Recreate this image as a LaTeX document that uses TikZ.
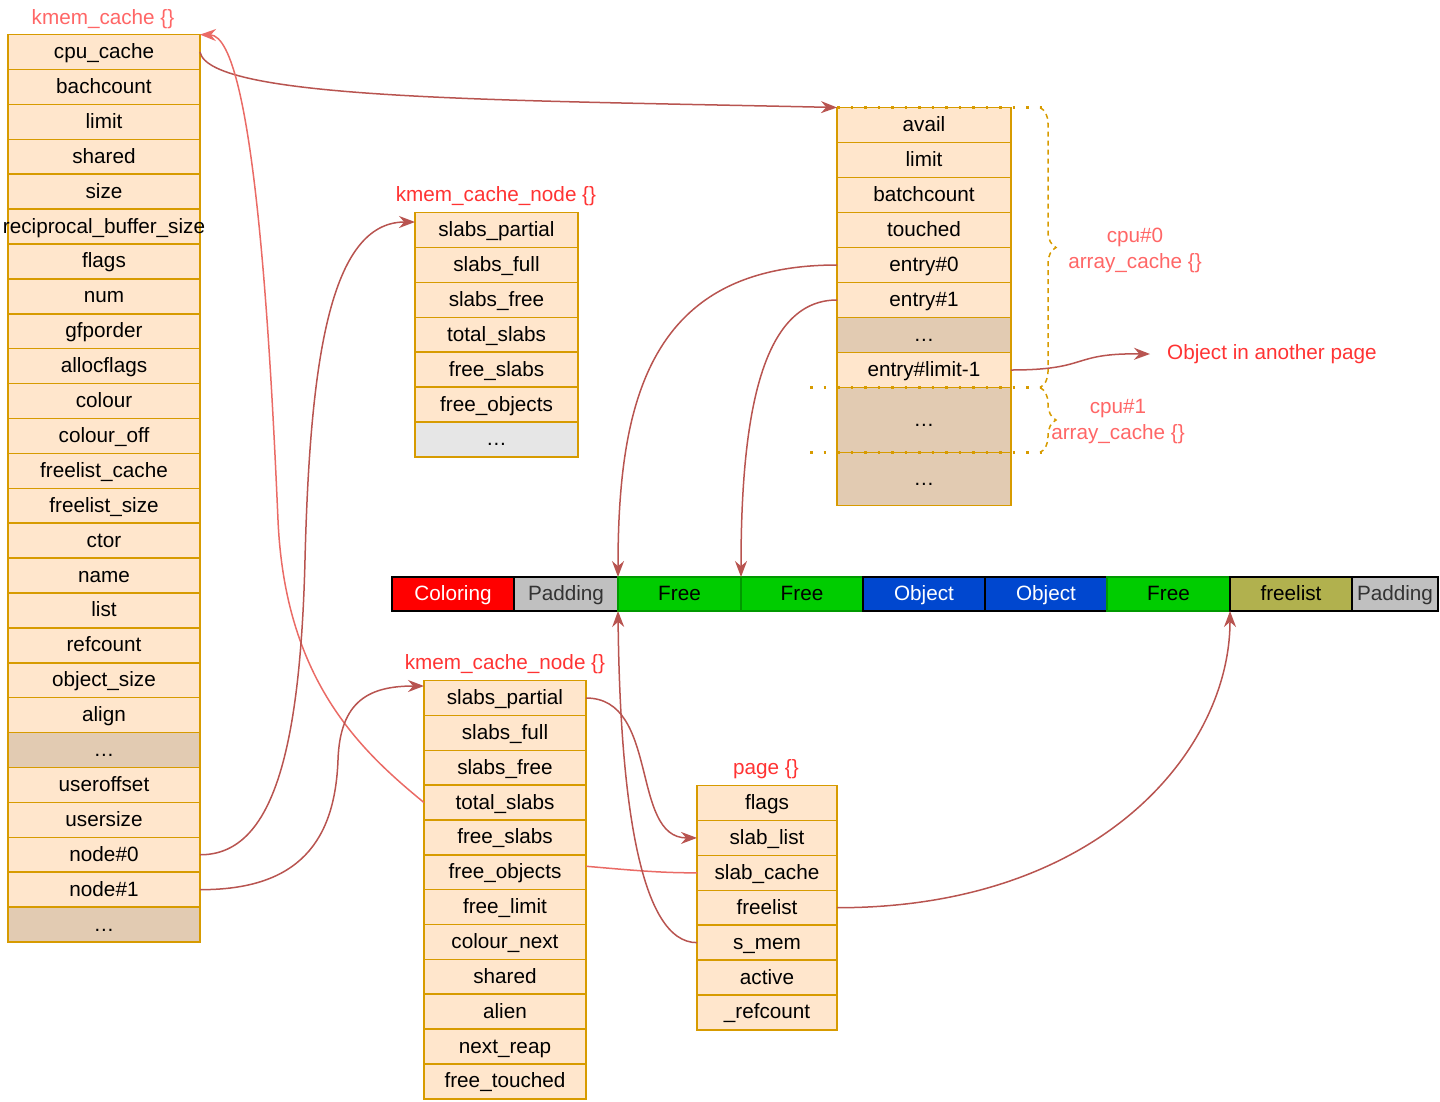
\documentclass[tikz,border=0pt]{standalone}
\usepackage{fontspec}
\setmainfont{Liberation Sans}
\usetikzlibrary{positioning,arrows.meta,decorations.pathreplacing}

\definecolor{fieldfill}{HTML}{FFE6CC}
\definecolor{fieldline}{HTML}{D79B00}
\definecolor{dotsfill}{HTML}{E2CBB2}
\definecolor{grayfill}{HTML}{E6E6E6}
\definecolor{linkred}{HTML}{B85450}
\definecolor{linkpink}{HTML}{EA6B66}
\definecolor{titlered}{HTML}{FF3333}
\definecolor{titlepink}{HTML}{FF6666}
\definecolor{coloring}{HTML}{FF0000}
\definecolor{padgray}{HTML}{C0C0C0}
\definecolor{padtext}{HTML}{333333}
\definecolor{freegreen}{HTML}{00CC00}
\definecolor{freeline}{HTML}{009900}
\definecolor{objblue}{HTML}{0047CF}
\definecolor{olive}{HTML}{B1B14E}

\begin{document}
\begin{tikzpicture}[x=1pt,y=-1pt,
  txt/.style={font=\fontsize{20.7}{26}\selectfont},
  field/.style={txt,draw=fieldline,fill=fieldfill,line width=1.5pt,inner sep=0pt,outer sep=0pt,
    minimum height=34.9pt,text height=16pt,text depth=3pt},
  cell/.style={txt,draw=black,line width=1.5pt,inner sep=0pt,outer sep=0pt,
    minimum height=34pt,text height=16pt,text depth=3pt},
  title/.style={txt,text=titlered},
  link/.style={draw=linkred,line width=1.5pt,-{Stealth[length=16pt,width=12pt]}},
  groupline/.style={draw=fieldline,line width=2.5pt,dash pattern=on 2.5pt off 11pt},
  bracket/.style={draw=fieldline,line width=1.5pt,dash pattern=on 5pt off 4pt,
    decorate,decoration={brace,amplitude=16pt}},
  kc21/.style={fill=dotsfill}, kc26/.style={fill=dotsfill},
  na7/.style={fill=grayfill}, ac7/.style={fill=dotsfill}]
\useasboundingbox (0,0) rectangle (1440,1101);

% kmem_cache
\node[title,text=titlepink] (kctitle) at (103,19) {kmem\_cache \{\}};
\foreach \t [count=\i] in {cpu\_cache,bachcount,limit,shared,size,reciprocal\_buffer\_size,flags,num,gfporder,allocflags,colour,colour\_off,freelist\_cache,freelist\_size,ctor,name,list,refcount,object\_size,align,\ldots,useroffset,usersize,node\#0,node\#1,\ldots}
  \node[field,minimum width=192pt,kc\i/.try] (kc\i) at (104,{52.05+(\i-1)*34.9}) {\makebox[0pt]{\t}};

% kmem_cache_node #0
\node[title] (natitle) at (496,196) {kmem\_cache\_node \{\}};
\foreach \t [count=\i] in {slabs\_partial,slabs\_full,slabs\_free,total\_slabs,free\_slabs,free\_objects,\ldots}
  \node[field,minimum width=163pt,na\i/.try] (na\i) at (496.5,{230+(\i-1)*34.9}) {\t};

% kmem_cache_node #1
\node[title] (nbtitle) at (505,664) {kmem\_cache\_node \{\}};
\foreach \t [count=\i] in {slabs\_partial,slabs\_full,slabs\_free,total\_slabs,free\_slabs,free\_objects,free\_limit,colour\_next,shared,alien,next\_reap,free\_touched}
  \node[field,minimum width=162pt] (nb\i) at (505,{698+(\i-1)*34.85}) {\t};

% page
\node[title] (pgtitle) at (766,769) {page \{\}};
\foreach \t [count=\i] in {flags,slab\_list,slab\_cache,freelist,s\_mem,active,\_refcount}
  \node[field,minimum width=140pt] (pg\i) at (767,{803+(\i-1)*34.9}) {\t};

% array_cache
\foreach \t [count=\i] in {avail,limit,batchcount,touched,entry\#0,entry\#1,\ldots,entry\#limit-1}
  \node[field,minimum width=174pt,minimum height=35pt,ac\i/.try] (ac\i) at (924,{125+(\i-1)*35}) {\t};
\node[field,fill=dotsfill,minimum width=174pt,minimum height=65pt,below=0pt of ac8] (ac9) {\ldots};
\node[field,fill=dotsfill,minimum width=174pt,minimum height=53pt,below=0pt of ac9] (ac10) {\ldots};

\draw[groupline] (ac1.north west) -- ([xshift=32pt]ac1.north east);
\draw[groupline] ([xshift=-27pt]ac8.south west) -- ([xshift=32pt]ac8.south east);
\draw[groupline] ([xshift=-27pt]ac9.south west) -- ([xshift=32pt]ac9.south east);
\draw[bracket] ([xshift=29pt]ac1.north east) -- ([xshift=29pt]ac8.south east);
\draw[bracket] ([xshift=29pt]ac8.south east) -- ([xshift=29pt]ac9.south east);
\node[txt,text=titlepink,align=center] (cpu0) at (1135,250) {cpu\#0\\array\_cache \{\}};
\node[txt,text=titlepink,align=center] (cpu1) at (1118,422) {cpu\#1\\array\_cache \{\}};
\node[title,anchor=west,inner xsep=17pt] (other) at (1150,354) {Object in another page};

% slab
\node[cell,fill=coloring,text=white,minimum width=122pt] (b1) at (453,594) {Coloring};
\node[cell,fill=padgray,text=padtext,minimum width=104pt,right=0pt of b1] (b2) {Padding};
\node[cell,fill=freegreen,draw=freeline,minimum width=123pt,right=0pt of b2] (b3) {Free};
\node[cell,fill=freegreen,draw=freeline,minimum width=122pt,right=0pt of b3] (b4) {Free};
\node[cell,fill=objblue,text=white,minimum width=122pt,right=0pt of b4] (b5) {Object};
\node[cell,fill=objblue,text=white,minimum width=122pt,right=0pt of b5] (b6) {Object};
\node[cell,fill=freegreen,draw=freeline,minimum width=123pt,right=0pt of b6] (b7) {Free};
\node[cell,fill=olive,minimum width=122pt,right=0pt of b7] (b8) {freelist};
\node[cell,fill=padgray,text=padtext,minimum width=86pt,right=0pt of b8] (b9) {Padding};

% pointers
\draw[link] (kc1.east) .. controls (210,100) and (500,100) .. (ac1.north west);
\draw[link,draw=linkpink] (nb4.west) .. controls (360,750) and (285,680) .. (278,520)
  .. controls (271,360) and (255,36) .. (kc1.north east);
\draw[link] (kc24.east) .. controls (270,855) and (300,760) .. (305,560)
  .. controls (310,360) and (330,222) .. ([yshift=8pt]na1.west);
\draw[link] (kc25.east) .. controls (300,890) and (335,840) .. (338,760)
  .. controls (340,700) and (370,686) .. ([yshift=12pt]nb1.west);
\draw[link] (nb1.east) .. controls (660,698) and (630,838) .. (pg2.west);
\draw[draw=linkpink,line width=1.5pt] ([yshift=6pt]nb6.east) .. controls (630,870) and (660,873) .. (pg3.west);
\draw[link] (pg4.east) .. controls (1100,908) and (1230,750) .. (b8.south west);
\draw[link] (pg5.west) .. controls (640,943) and (620,800) .. (b3.south west);
\draw[link] (ac5.west) .. controls (650,265) and (618,400) .. (b3.north west);
\draw[link] (ac6.west) .. controls (760,300) and (741,420) .. (b4.north west);
\draw[link] (ac8.east) .. controls (1090,370) and (1070,353) .. (other.west);
\end{tikzpicture}
\end{document}
